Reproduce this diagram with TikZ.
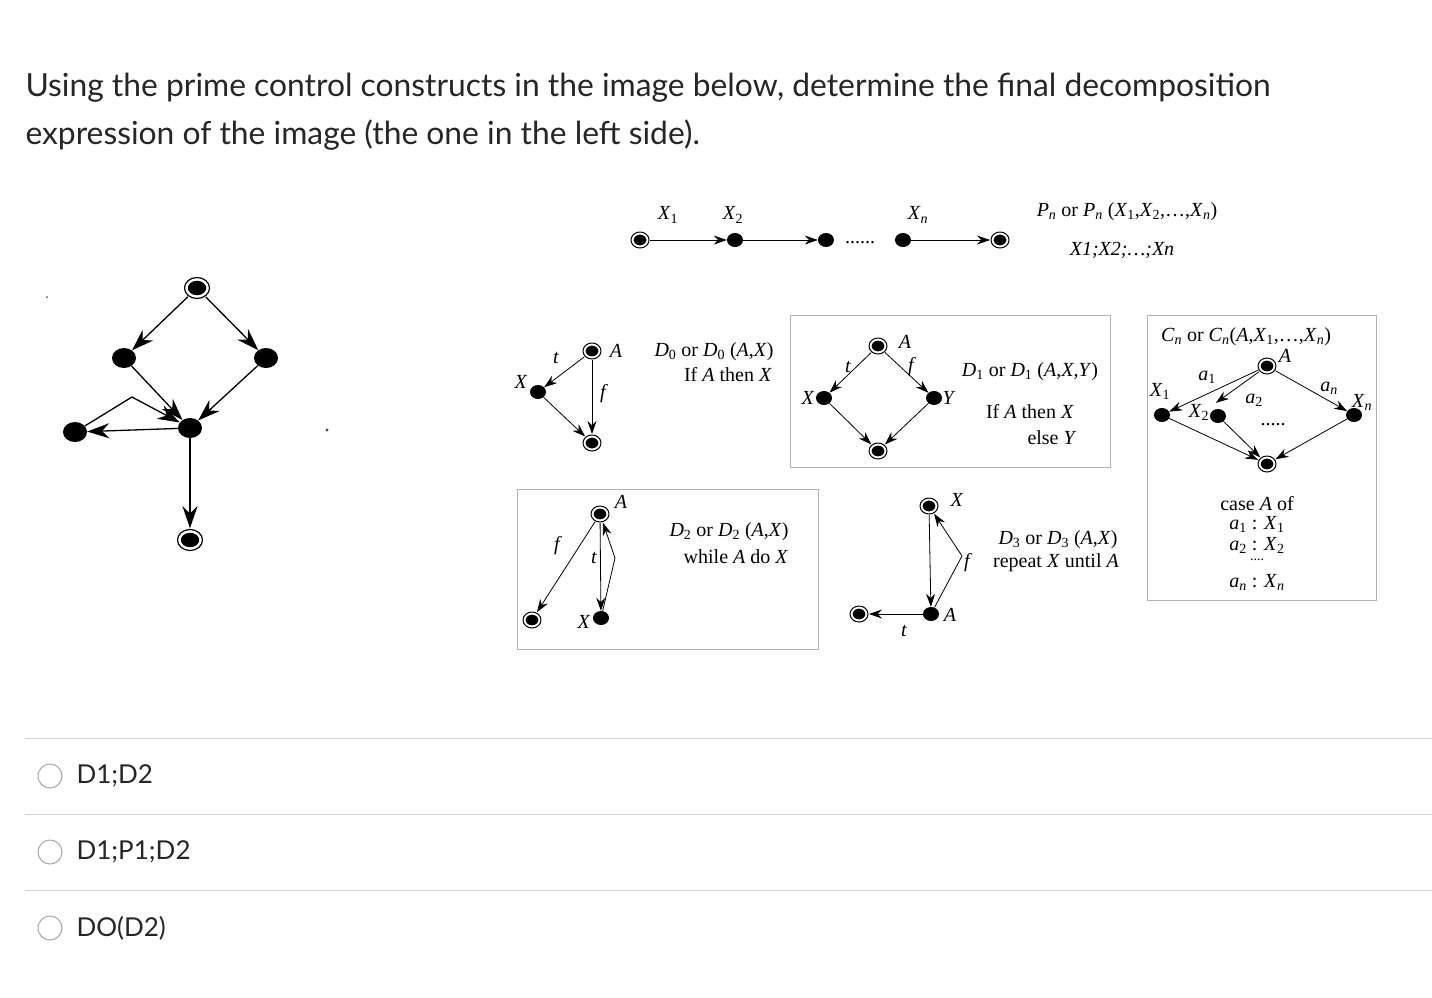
\documentclass[tikz,border=0pt]{standalone}
\usepackage{fontspec}
\setmainfont{Liberation Serif}
\newfontfamily\lato{Lato}
\usetikzlibrary{arrows.meta,shapes.geometric}
\newcommand\iv[1]{\textit{#1}}
\newcommand\vs[2]{\textit{#1}\textsubscript{\textit{#2}}}
\newcommand\ns[2]{\textit{#1}\textsubscript{#2}}
\begin{document}
\begin{tikzpicture}[x=1pt,y=-1pt,
  dot/.style={ellipse,fill=black,inner sep=0pt,minimum width=16pt,minimum height=14pt},
  term/.style={ellipse,fill=black,inner sep=0pt,minimum width=18pt,minimum height=16pt,draw=white,line width=2pt,
     double=black,double distance=1pt},
  big/.style={ellipse,fill=black,inner sep=0pt,minimum width=24pt,minimum height=20pt},
  bigterm/.style={ellipse,fill=black,inner sep=0pt,minimum width=25pt,minimum height=21pt,draw=white,line width=2.5pt,double=black,double distance=1.2pt},
  ar/.style={-{Stealth[length=13pt,width=9pt]},line width=0.8pt},
  bar/.style={-{Stealth[length=22pt,width=15pt]},line width=1.3pt},
  lb/.style={font=\fontsize{20}{22}\selectfont},
  box/.style={draw=gray!60,line width=0.8pt}]
\useasboundingbox (0,0) rectangle (1432,997);
\node[anchor=west,font=\lato\fontsize{31.8}{36}\selectfont,text=black!85] (q1) at (22,88) {Using the prime control constructs in the image below, determine the final decomposition};
\node[anchor=west,font=\lato\fontsize{31.8}{36}\selectfont,text=black!85] (q2) at (22,135) {expression of the image (the one in the left side).};
% left graph
\node[bigterm] (g1) at (197,288) {};
\node[big] (g2) at (124,358) {};
\node[big] (g3) at (266,358) {};
\node[big] (g4) at (190,428) {};
\node[big] (g5) at (75,432) {};
\node[bigterm] (g6) at (190,540) {};
\coordinate (gb) at (132,397);
\draw[bar] (g1) -- (g2);
\draw[bar] (g1) -- (g3);
\draw[bar] (g2) -- (g4);
\draw[bar] (g3) -- (g4);
\draw[bar] (g4) -- (g5);
\draw[bar] (g4) -- (g6);
\draw[bar] (g5) -- (gb) -- (g4);
\fill[black!70] (47,297) circle (1pt);
\fill[black!70] (327,430) circle (1.6pt);
% Pn
\node[term] (p1) at (640,240) {};
\node[dot] (p2) at (735,240) {};
\node[dot] (p3) at (826,240) {};
\node[dot] (p4) at (903,240) {};
\node[term] (p5) at (1000,240) {};
\node[lb] (pd) at (860,243) {......};
\draw[ar] (p1) -- (p2);
\draw[ar] (p2) -- (p3);
\draw[ar] (p4) -- (p5);
\node[lb] (px1) at (668,215) {\ns{X}{1}};
\node[lb] (px2) at (733,215) {\ns{X}{2}};
\node[lb] (pxn) at (918,215) {\vs{X}{n}};
\node[lb] (pt1) at (1127,212) {\vs{P}{n} or \vs{P}{n} (\ns{X}{1},\ns{X}{2},\ldots,\vs{X}{n})};
\node[lb] (pt2) at (1122,250) {\iv{X1;X2;\ldots;Xn}};
% D0
\node[term] (a0) at (592,351) {};
\node[dot] (x0) at (538,392) {};
\node[term] (e0) at (592,443) {};
\draw[ar] (a0) -- (x0);
\draw[ar] (a0) -- (e0);
\draw[ar] (x0) -- (e0);
\node[lb] at (556,358) {\iv{t}};
\node[lb] at (616,351) {\iv{A}};
\node[lb] at (521,382) {\iv{X}};
\node[lb] at (604,394) {\iv{f}};
\node[lb] (d0a) at (714,352) {\ns{D}{0} or \ns{D}{0} (\iv{A},\iv{X})};
\node[lb] (d0b) at (728,375) {If \iv{A} then \iv{X}};
% D1
\draw[box] (790,315) rectangle (1110,467);
\node[term] (a1) at (878,346) {};
\node[dot] (x1) at (824,398) {};
\node[dot] (y1) at (934,398) {};
\node[term] (e1) at (878,451) {};
\draw[ar] (a1) -- (x1);
\draw[ar] (a1) -- (y1);
\draw[ar] (x1) -- (e1);
\draw[ar] (y1) -- (e1);
\node[lb] at (848,367) {\iv{t}};
\node[lb] at (912,367) {\iv{f}};
\node[lb] at (905,342) {\iv{A}};
\node[lb] at (808,398) {\iv{X}};
\node[lb] at (949,398) {\iv{Y}};
\node[lb] (d1a) at (1030,372) {\ns{D}{1} or \ns{D}{1} (\iv{A},\iv{X},\iv{Y})};
\node[lb] (d1b) at (1030,412) {If \iv{A} then \iv{X}};
\node[lb] (d1c) at (1052,438) {else \iv{Y}};
% Cn
\draw[box] (1147,315) rectangle (1376,600);
\node[lb] (cna) at (1246,337) {\vs{C}{n} or \vs{C}{n}(\iv{A},\ns{X}{1},\ldots,\vs{X}{n})};
\node[term] (ac) at (1267,366) {};
\node[dot] (c1) at (1162,415) {};
\node[dot] (c2) at (1218,416) {};
\node[dot] (cn) at (1354,415) {};
\node[term] (ec) at (1267,464) {};
\draw[ar] (ac) -- (c1);
\draw[ar] (ac) -- ([shift={(-8,-8)}]c2.north east);
\draw[ar] (ac) -- (cn);
\draw[ar] (c1) -- (ec);
\draw[ar] (c2) -- (ec);
\draw[ar] (cn) -- (ec);
\node[lb] at (1207,377) {\ns{a}{1}};
\node[lb] at (1254,400) {\ns{a}{2}};
\node[lb] at (1329,388) {\vs{a}{n}};
\node[lb] at (1160,391) {\ns{X}{1}};
\node[lb] at (1199,412) {\ns{X}{2}};
\node[lb] at (1362,402) {\vs{X}{n}};
\node[lb] at (1285,356) {\iv{A}};
\node[lb] at (1273,425) {.....};
\node[lb] (cs0) at (1257,504) {case \iv{A} of};
\node[lb] (cs1) at (1257,524) {\ns{a}{1} : \ns{X}{1}};
\node[lb] (cs2) at (1257,545) {\ns{a}{2} : \ns{X}{2}};
\node[lb,font=\fontsize{14}{14}\selectfont] (cs3) at (1257,560) {....};
\node[lb] (cs4) at (1257,582) {\vs{a}{n} : \vs{X}{n}};
% D2
\draw[box] (517,489) rectangle (818,649);
\node[term] (a2) at (600,514) {};
\node[term] (e2) at (532,620) {};
\node[dot] (x2) at (601,618) {};
\coordinate (b2) at (615,558);
\draw[ar] (a2) -- (e2);
\draw[ar] (a2) -- (x2);
\draw[ar] (x2) -- (b2) -- (a2);
\node[lb] at (621,502) {\iv{A}};
\node[lb] at (584,622) {\iv{X}};
\node[lb] at (558,546) {\iv{f}};
\node[lb] at (594,558) {\iv{t}};
\node[lb] (d2a) at (729,532) {\ns{D}{2} or \ns{D}{2} (\iv{A},\iv{X})};
\node[lb] (d2b) at (736,557) {while \iv{A} do \iv{X}};
% D3
\node[term] (x3) at (929,506) {};
\node[dot] (a3) at (931,614) {};
\node[term] (e3) at (859,614) {};
\coordinate (b3) at (962,556);
\draw[ar] (x3) -- (a3);
\draw[ar] (a3) -- (e3);
\draw[ar] (a3) -- (b3) -- (x3);
\node[lb] at (957,500) {\iv{X}};
\node[lb] at (950,615) {\iv{A}};
\node[lb] at (968,563) {\iv{f}};
\node[lb] at (904,631) {\iv{t}};
\node[lb] (d3a) at (1058,540) {\ns{D}{3} or \ns{D}{3} (\iv{A},\iv{X})};
\node[lb] (d3b) at (1056,563) {repeat \iv{X} until \iv{A}};
% options
\foreach \y in {738,814,890} \draw[gray!35,line width=1pt] (25,\y) -- (1432,\y);
\foreach \y/\t [count=\i] in {776/D1;D2,852/D1;P1;D2,928/DO(D2)} {
  \node[circle,draw=gray!70,line width=1pt,minimum size=24pt,inner sep=0pt] (r\i) at (50,\y) {};
  \node[anchor=west,font=\lato\fontsize{26}{30}\selectfont,text=black!85] (o\i) at (73,\y) {\t};
}
\end{tikzpicture}
\end{document}
